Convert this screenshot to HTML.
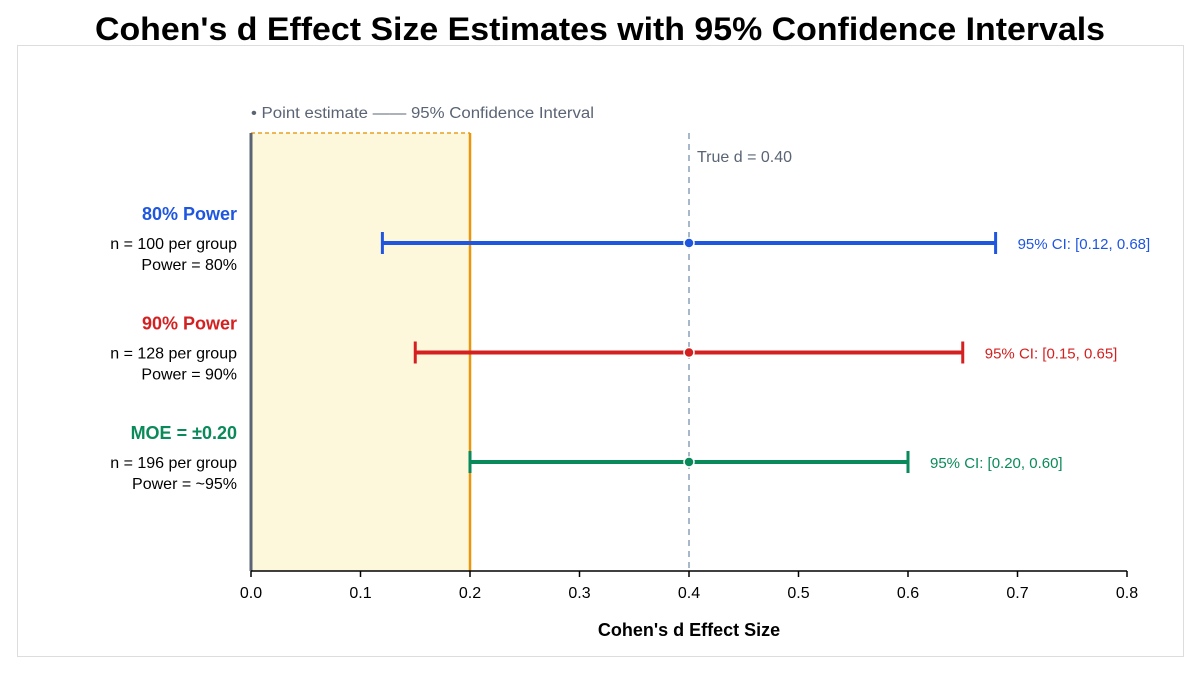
<!DOCTYPE html>
<html><head><meta charset="utf-8"><style>
body{margin:0;background:#fff;width:1200px;height:675px;overflow:hidden;font-family:"Liberation Sans",sans-serif}
</style></head><body>
<svg id="c" width="1200" height="675" xmlns="http://www.w3.org/2000/svg" font-family="Liberation Sans, sans-serif">
<text x="600" y="40" text-anchor="middle" font-size="32" font-weight="bold" fill="#000" textLength="1010" lengthAdjust="spacingAndGlyphs">Cohen's d Effect Size Estimates with 95% Confidence Intervals</text>
<rect x="17.5" y="45.5" width="1166" height="611" fill="none" stroke="#ddd"/>
<text x="251" y="118" font-size="15.5" fill="#5a6474" textLength="343" lengthAdjust="spacingAndGlyphs">• Point estimate —— 95% Confidence Interval</text>
<g id="g"></g>
<text x="689" y="636" text-anchor="middle" font-size="18" font-weight="bold" fill="#000">Cohen's d Effect Size</text>
</svg>
<script>
const labels=["80% Power","90% Power","MOE = ±0.20"];
const nText=["n = 100 per group","n = 128 per group","n = 196 per group"];
const powText=["Power = 80%","Power = 90%","Power = ~95%"];
const estimates=[0.40,0.40,0.40];
const lower=[0.12,0.15,0.20];
const upper=[0.68,0.65,0.60];
const ticks=[0,0.1,0.2,0.3,0.4,0.5,0.6,0.7,0.8];
const trueD=0.40, thresh=0.2;
const colors=["#1f56e0","#d42020","#0a8a5a"];
const X=v=>251+v*1095, Y=i=>243+i*109.5;
const ns="http://www.w3.org/2000/svg", g=document.getElementById('g');
function el(t,a,txt){const e=document.createElementNS(ns,t);for(const k in a)e.setAttribute(k,a[k]);if(txt!=null)e.textContent=txt;g.appendChild(e);return e;}
let e;
e=el('rect',{x:X(0),y:133,width:X(thresh)-X(0),height:438,fill:'#fdf7dc'});


e=el('line',{x1:X(0),y1:133,x2:X(thresh),y2:133,stroke:'#e8a020','stroke-width':1.5,'stroke-dasharray':'4,3'});


e=el('line',{x1:X(thresh),y1:133,x2:X(thresh),y2:571,stroke:'#e8960c','stroke-width':2.5});


e=el('line',{x1:X(0),y1:133,x2:X(0),y2:571,stroke:'#5a6474','stroke-width':3});


e=el('line',{x1:X(trueD),y1:133,x2:X(trueD),y2:571,stroke:'#8aa0b8','stroke-width':1.5,'stroke-dasharray':'6,5'});


e=el('text',{x:X(trueD)+8,y:162,'font-size':16,fill:'#5a6474'},'True d = '+trueD.toFixed(2));


e=el('line',{x1:X(0),y1:571,x2:X(0.8),y2:571,stroke:'#000','stroke-width':1.5});


ticks.forEach(t=>{
 e=el('line',{x1:X(t),y1:571,x2:X(t),y2:577,stroke:'#000','stroke-width':1.5});
 
 
 e=el('text',{x:X(t),y:598,'text-anchor':'middle','font-size':16,fill:'#000'},t.toFixed(1));
 
 
});
labels.forEach((l,i)=>{
 const y=Y(i),c=colors[i];
 e=el('text',{x:237,y:y-23,'text-anchor':'end','font-size':18,'font-weight':'bold',fill:c},l);
 
 
 e=el('text',{x:237,y:y+6,'text-anchor':'end','font-size':16,fill:'#000'},nText[i]);
 
 
 e=el('text',{x:237,y:y+27,'text-anchor':'end','font-size':16,fill:'#000'},powText[i]);
 
 
 e=el('line',{x1:X(lower[i]),y1:y,x2:X(upper[i]),y2:y,stroke:c,'stroke-width':4});
 
 
 [lower[i],upper[i]].forEach(v=>{
  e=el('line',{x1:X(v),y1:y-11,x2:X(v),y2:y+11,stroke:c,'stroke-width':3});
  
  
 });
 e=el('circle',{cx:X(estimates[i]),cy:y,r:5,fill:c,stroke:'#fff','stroke-width':1.5});
 
 
 e=el('text',{x:X(upper[i])+22,y:y+6,'font-size':15,fill:c},'95% CI: ['+lower[i].toFixed(2)+', '+upper[i].toFixed(2)+']');
 
 
});
</script>
</body></html>
